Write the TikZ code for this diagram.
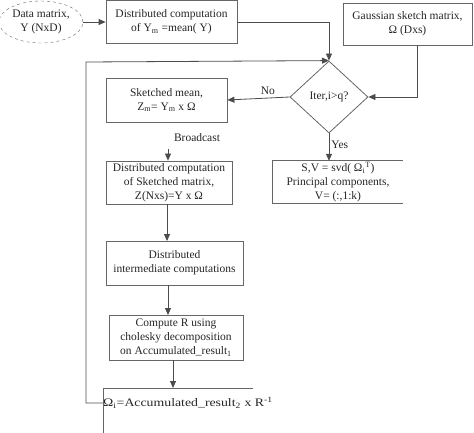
\documentclass[tikz,border=0pt]{standalone}
\usepackage{fontspec}
\setmainfont{Liberation Serif}
\usetikzlibrary{shapes.geometric,arrows.meta}
\begin{document}
\begin{tikzpicture}[x=1pt,y=-1pt,
  every node/.style={font=\fontsize{11.5}{14}\selectfont, text=black!85},
  box/.style={draw=black!60, line width=0.8pt, rectangle, align=center, inner sep=0pt},
  conn/.style={draw=black!70, line width=0.8pt, -{Triangle[length=7pt,width=6pt]}},
  plain/.style={draw=black!70, line width=0.8pt}]
\useasboundingbox (0,0) rectangle (474,433);
\node[draw=black!60, dashed, ellipse, minimum width=84pt, minimum height=42pt, inner sep=0pt, align=center] (data) at (41,22) {Data matrix,\\Y (NxD)};
\node[box, minimum width=131pt, minimum height=43pt] (mean) at (171.5,22) {Distributed computation\\of Y\textsubscript{m} =mean( Y)};
\node[box, minimum width=129pt, minimum height=42pt] (gauss) at (407.5,24) {Gaussian sketch matrix,\\Ω (Dxs)};
\node[draw=black!60, line width=0.8pt, diamond, minimum width=78pt, minimum height=72pt, inner sep=0pt] (iter) at (329,97) {Iter,i>q?};
\node[box, minimum width=121pt, minimum height=44pt] (sk) at (166.5,100) {Sketched mean,\\Z\textsubscript{m}= Y\textsubscript{m} x Ω};
\node (bc) at (197,138) {Broadcast};
\coordinate (bcs) at (168,149);
\node[box, minimum width=126pt, minimum height=43pt] (skm) at (169,182.5) {Distributed computation\\of Sketched matrix,\\Z(Nxs)=Y x Ω};
\node[box, minimum width=137pt, minimum height=44pt] (int) at (174.5,263) {Distributed\\intermediate computations};
\node[box, minimum width=134pt, minimum height=45pt] (chol) at (176,337.5) {Compute R using\\cholesky decomposition\\on Accumulated\_result\textsubscript{1}};
\node[align=center, inner sep=0pt, minimum width=130pt, minimum height=42pt] (svd) at (338,182) {S,V = svd( Ω\textsubscript{i}\textsuperscript{T})\\Principal components,\\V= (:,1:k)};
\draw[draw=black!60, line width=0.8pt] (svd.north east) -- (svd.north west) -- (svd.south west) -- (svd.south east);
\node[anchor=west, inner sep=0pt] (fin) at (103,403) {\scalebox{1.2}[1]{Ω\textsubscript{i}=Accumulated\_result\textsubscript{2} x R\textsuperscript{-1}}};
\coordinate (fintl) at (103,388);
\draw[draw=black!60, line width=0.8pt] (253,388) -- (fintl) -- (103,433);
% connectors
\draw[conn] (data) -- (mean);
\draw[conn] (mean.east) -- (iter.north |- mean.east) -- (iter.north);
\draw[conn] (fin.west) -- (86,403) -- (86,62) -- (iter.north);
\draw[conn] (gauss.south -| 417,0) -- (417,97) -- (iter.east);
\draw[conn] (iter.west) -- node[above, pos=0.35] {No} (sk.east);
\draw[conn] (iter.south) -- node[right, pos=0.4, inner sep=2pt] {Yes} (iter.south |- svd.north);
\draw[conn] (bcs) -- (bcs |- skm.north);
\draw[conn] (skm.south -| 167,0) -- (167,241);
\draw[conn] (int.south -| 168,0) -- (168,315);
\draw[conn] (chol.south -| 173,0) -- (173,388);
\end{tikzpicture}
\end{document}
